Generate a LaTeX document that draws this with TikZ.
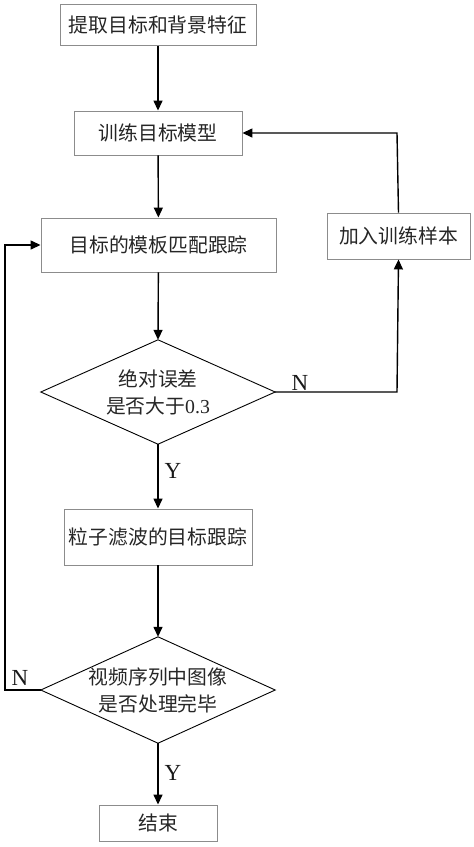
\documentclass[tikz,border=0pt]{standalone}
\usepackage{fontspec}
\setmainfont{Liberation Serif}
\newfontfamily\cjk{Noto Sans CJK SC}
\usetikzlibrary{arrows.meta}
\tikzset{
  box/.style={draw=black!45, line width=0.9pt, fill=white, inner sep=0pt, font=\cjk\fontsize{19.8}{23}\selectfont, text=black!85},
  dec/.style={inner sep=0pt, align=center, font=\fontsize{19.8}{27}\selectfont, text=black!85},
  decline/.style={draw=black, line width=0.9pt},
  arr/.style={line width=1.4pt, -{Triangle[length=10pt,width=9pt]}},
  lbl/.style={font=\fontsize{23}{26}\selectfont, text=black!90}
}
\begin{document}
\begin{tikzpicture}[x=1pt,y=-1pt]
\useasboundingbox (0,0) rectangle (474,847);
\node[box, minimum width=196, minimum height=41] (b1) at (158,25) {提取目标和背景特征};
\node[box, minimum width=168, minimum height=44] (b2) at (158,133) {训练目标模型};
\node[box, minimum width=235, minimum height=54] (b3) at (158.5,245) {目标的模板匹配跟踪};
\node[box, minimum width=143, minimum height=46] (add) at (398.5,236) {加入训练样本};
\node[dec, minimum width=234, minimum height=104] (d1) at (158,392) {{\cjk 绝对误差}\\{\cjk 是否大于}0.3};
\draw[decline] (d1.north) -- (d1.east) -- (d1.south) -- (d1.west) -- cycle;
\node[box, minimum width=188, minimum height=56] (b5) at (158,537) {粒子滤波的目标跟踪};
\node[dec, minimum width=234, minimum height=106] (d2) at (158,690) {{\cjk 视频序列中图像}\\{\cjk 是否处理完毕}};
\draw[decline] (d2.north) -- (d2.east) -- (d2.south) -- (d2.west) -- cycle;
\node[box, minimum width=118, minimum height=36] (end) at (158,823) {结束};

\coordinate (nr) at (397,392);
\coordinate (tr) at (397,133);
\coordinate (nl) at (5,690);
\coordinate (tl) at (5,245);

\draw[arr] (b1) -- (b2);
\draw[arr] (b2) -- (b3);
\draw[arr] (b3) -- (d1.north);
\draw[arr] (d1.south) -- (b5);
\draw[arr] (b5) -- (d2.north);
\draw[arr] (d2.south) -- (end);
\draw[arr] (d1.east) -- (nr) -- (add.south);
\draw[arr] (add.north) -- (tr) -- (b2.east);
\draw[arr] (d2.west) -- (nl) -- (tl) -- (b3.west);

\node[lbl] (n1) at (300,383) {N};
\node[lbl] (y1) at (173,471) {Y};
\node[lbl] (n2) at (20,678) {N};
\node[lbl] (y2) at (173,773) {Y};
\end{tikzpicture}
\end{document}
